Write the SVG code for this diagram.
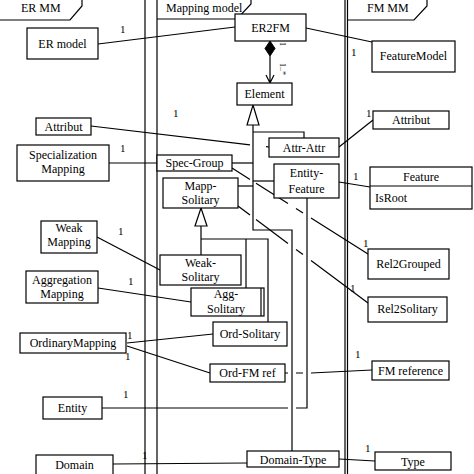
<svg xmlns="http://www.w3.org/2000/svg" width="474" height="474" viewBox="0 0 474 474" font-family="'Liberation Serif', 'DejaVu Serif', serif">
<style>
text{font-family:'Liberation Serif','DejaVu Serif',serif;font-size:12px;fill:#000}
.c{text-anchor:middle}
.m{font-size:11px}
.s{font-size:8px}
rect{fill:#fff;stroke:#000;stroke-width:1.2}
.ln{fill:none;stroke:#000;stroke-width:1.2}
.tri{fill:#fff;stroke:#000;stroke-width:1.2}
</style>
<rect x="0" y="0" width="474" height="474" style="stroke:none"/>
<g id="frames">
<path class="ln" d="M145,0V474M157,0V474M345,0V474M347.5,0V474"/>
<path class="ln" d="M0,20H70L82,6V0"/>
<text x="21" y="12">ER MM</text>
<path class="ln" d="M157,19H237L251,4V0"/>
<text x="166" y="12">Mapping model</text>
<path class="ln" d="M347,20H414L427,6V0"/>
<text x="367" y="12">FM MM</text>
</g>
<g id="connectors">
<path class="ln" d="M98,44L235,27"/>
<path class="ln" d="M306,28L372,42"/>
<path class="ln" d="M270,56V83M266,75L270,83L274,75"/>
<path d="M270,41L275,48.5L270,56L265,48.5Z" fill="#000" stroke="#000"/>
<text class="s" transform="translate(280,42) rotate(90)">1</text>
<text class="s" transform="translate(280,63) rotate(90)">1..*</text>
<path class="ln" d="M253,125V230H292V451"/>
<path class="ln" d="M253,132H304V138"/>
<path class="ln" d="M232,163H253"/>
<path class="ln" d="M253,181H274"/>
<path class="ln" d="M238,186H253"/>
<path class="ln" d="M201,226V239H268V322M201,239V255M246,239V288"/>
<path class="ln" d="M91,126L250,144.8M266,146.6L269,147"/>
<path class="ln" d="M339,147L373,120"/>
<path class="ln" d="M339,182L370,187"/>
<path class="ln" d="M109,163H157"/>
<path class="ln" d="M97,237L160,270"/>
<path class="ln" d="M98,288L191,302"/>
<path class="ln" d="M127,343L213,334M127,346L210,373"/>
<path class="ln" d="M232,168L250,179.4M256,183.2L288,203.4M296,208.5L303,212.9M311,218L368,254"/>
<path class="ln" d="M238,206L250,215M256,219.5L288,243.4M296,249.4L303,254.6M311,260.6L368,303"/>
<path class="ln" d="M285,373H288M296,373H303M311,373L372,370"/>
<path class="ln" d="M102,408H288M296,408H307V198"/>
<path class="ln" d="M113,464L247,463"/>
<path class="ln" d="M339,459L375,461"/>
<path class="tri" d="M253,105L259,125H247Z"/>
<path class="tri" d="M201,208L207,226H195Z"/>
<text class="m" x="120" y="33">1</text>
<text class="m" x="351" y="56">1</text>
<text class="m" x="173" y="117">1</text>
<text class="m" x="366" y="117">1</text>
<text class="m" x="120" y="152">1</text>
<text class="m" x="353" y="180">1</text>
<text class="m" x="118" y="235">1</text>
<text class="m" x="128" y="285">1</text>
<text class="m" x="127" y="339">1</text>
<text class="m" x="125" y="360">1</text>
<text class="m" x="363" y="247">1</text>
<text class="m" x="350" y="292">1</text>
<text class="m" x="355" y="358">1</text>
<text class="m" x="123" y="398">1</text>
<text class="m" x="142" y="459">1</text>
<text class="m" x="365" y="452">1</text>
</g>
<g id="er-model"><rect x="27" y="28" width="71" height="31"/><text class="c" x="62.5" y="48">ER model</text></g>
<g id="er2fm"><rect x="235" y="14" width="71" height="27"/><text class="c" x="270.5" y="32">ER2FM</text></g>
<g id="featuremodel"><rect x="372" y="41" width="83" height="31"/><text class="c" x="413.5" y="60">FeatureModel</text></g>
<g id="element"><rect x="237" y="83" width="55" height="22"/><text class="c" x="264.5" y="98">Element</text></g>
<g id="attribut-er"><rect x="36" y="118" width="55" height="17"/><text class="c" x="63.5" y="130.5">Attribut</text></g>
<g id="attr-attr"><rect x="269" y="138" width="70" height="19"/><text class="c" x="304" y="151.5">Attr-Attr</text></g>
<g id="attribut-fm"><rect x="373" y="111" width="76" height="18"/><text class="c" x="411" y="124">Attribut</text></g>
<g id="spec-mapping"><rect x="17" y="145" width="92" height="36"/><text class="c" x="63" y="158.5">Specialization</text><text class="c" x="63" y="173">Mapping</text></g>
<g id="spec-group"><rect x="157" y="155" width="75" height="16"/><text class="c" x="194.5" y="167">Spec-Group</text></g>
<g id="entity-feature"><rect x="274" y="164" width="65" height="34"/><text class="c" x="306.5" y="177">Entity-</text><text class="c" x="306.5" y="193">Feature</text></g>
<g id="feature"><rect x="370" y="167" width="102" height="42"/><path class="ln" d="M370,186H472"/><text class="c" x="421" y="181">Feature</text><text x="375" y="202">IsRoot</text></g>
<g id="mapp-solitary"><rect x="163" y="178" width="75" height="30"/><text class="c" x="200.5" y="190">Mapp-</text><text class="c" x="200.5" y="204">Solitary</text></g>
<g id="weak-mapping"><rect x="41" y="221" width="56" height="32"/><text class="c" x="69" y="232">Weak</text><text class="c" x="69" y="246">Mapping</text></g>
<g id="weak-solitary"><rect x="160" y="255" width="81" height="30"/><text class="c" x="200.5" y="267">Weak-</text><text class="c" x="200.5" y="281">Solitary</text></g>
<g id="rel2grouped"><rect x="368" y="249" width="81" height="30"/><text class="c" x="408.5" y="268">Rel2Grouped</text></g>
<g id="aggregation-mapping"><rect x="26" y="271" width="72" height="32"/><text class="c" x="62" y="284">Aggregation</text><text class="c" x="62" y="298">Mapping</text></g>
<g id="agg-solitary"><rect x="191" y="288" width="73" height="28"/><path class="ln" d="M261,288V316"/><text class="c" x="226" y="298">Agg-</text><text class="c" x="226" y="313">Solitary</text></g>
<g id="rel2solitary"><rect x="368" y="297" width="79" height="25"/><text class="c" x="407.5" y="313">Rel2Solitary</text></g>
<g id="ordinarymapping"><rect x="20" y="333" width="106" height="20"/><text class="c" x="73" y="347">OrdinaryMapping</text></g>
<g id="ord-solitary"><rect x="213" y="322" width="74" height="24"/><text class="c" x="250" y="338">Ord-Solitary</text></g>
<g id="ord-fm-ref"><rect x="210" y="364" width="75" height="18"/><text class="c" x="247.5" y="377">Ord-FM ref</text></g>
<g id="fm-reference"><rect x="372" y="361" width="77" height="19"/><text class="c" x="410.5" y="375">FM reference</text></g>
<g id="entity"><rect x="43" y="397" width="59" height="22"/><text class="c" x="72.5" y="412">Entity</text></g>
<g id="domain"><rect x="36" y="455" width="77" height="20"/><text class="c" x="74.5" y="469">Domain</text></g>
<g id="domain-type"><rect x="247" y="451" width="92" height="16"/><text class="c" x="293" y="464">Domain-Type</text></g>
<g id="type"><rect x="375" y="452" width="76" height="18"/><text class="c" x="413" y="466">Type</text></g>
</svg>
